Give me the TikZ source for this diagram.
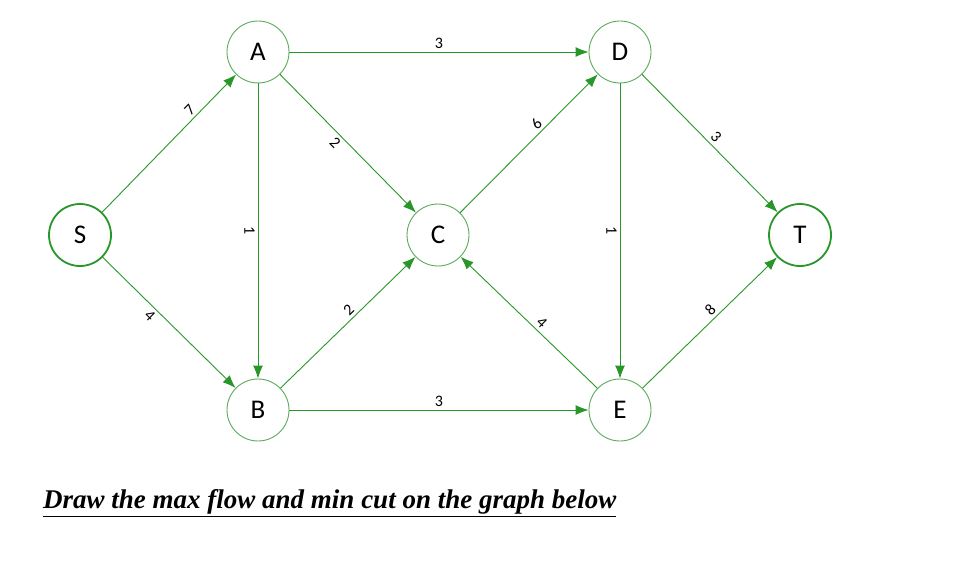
\documentclass[tikz,border=0pt]{standalone}
\usepackage{fontspec}
\setmainfont{Carlito}
\newfontfamily\titlefont{Liberation Serif}
\usetikzlibrary{arrows.meta}
\definecolor{eg}{RGB}{40,150,40}
\definecolor{ng}{RGB}{90,170,90}
\tikzset{
  vx/.style={circle,draw=ng,line width=0.9pt,fill=white,minimum size=62pt,inner sep=0pt,font=\fontsize{27}{27}\selectfont},
  vt/.style={vx,draw=eg,line width=1.8pt},
  ed/.style={draw=eg,line width=0.9pt,-{Latex[length=13pt,width=10pt]}},
  lb/.style={font=\fontsize{16}{16}\selectfont,sloped,inner sep=3pt}
}
\begin{document}
\begin{tikzpicture}[x=1pt,y=-1pt]
\useasboundingbox (0,0) rectangle (960,572);
\node[vt] (S) at (80,235) {S};
\node[vx] (A) at (258,52) {A};
\node[vx] (D) at (620,52) {D};
\node[vx] (C) at (438,235) {C};
\node[vt] (T) at (800,235) {T};
\node[vx] (B) at (258,410) {B};
\node[vx] (E) at (620,410) {E};
\path[ed] (S) -- node[lb,pos=0.7,above]{7} (A);
\path[ed] (S) -- node[lb,pos=0.4,below]{4} (B);
\path[ed] (A) -- node[lb,above]{3} (D);
\path[ed] (A) -- node[lb,pos=0.45,below]{2} (C);
\path[ed] (A) -- node[lb,below]{1} (B);
\path[ed] (B) -- node[lb,pos=0.55,above]{2} (C);
\path[ed] (B) -- node[lb,above]{3} (E);
\path[ed] (C) -- node[lb,pos=0.6,above]{6} (D);
\path[ed] (E) -- node[lb,pos=0.45,above]{4} (C);
\path[ed] (D) -- node[lb,pos=0.5,above]{3} (T);
\path[ed] (D) -- node[lb,below]{1} (E);
\path[ed] (E) -- node[lb,pos=0.55,above]{8} (T);
\node[font=\titlefont\bfseries\itshape\fontsize{27}{27}\selectfont,inner sep=0pt,anchor=west] (title) at (43,503) {\underline{Draw the max flow and min cut on the graph below}};
\end{tikzpicture}
\end{document}
